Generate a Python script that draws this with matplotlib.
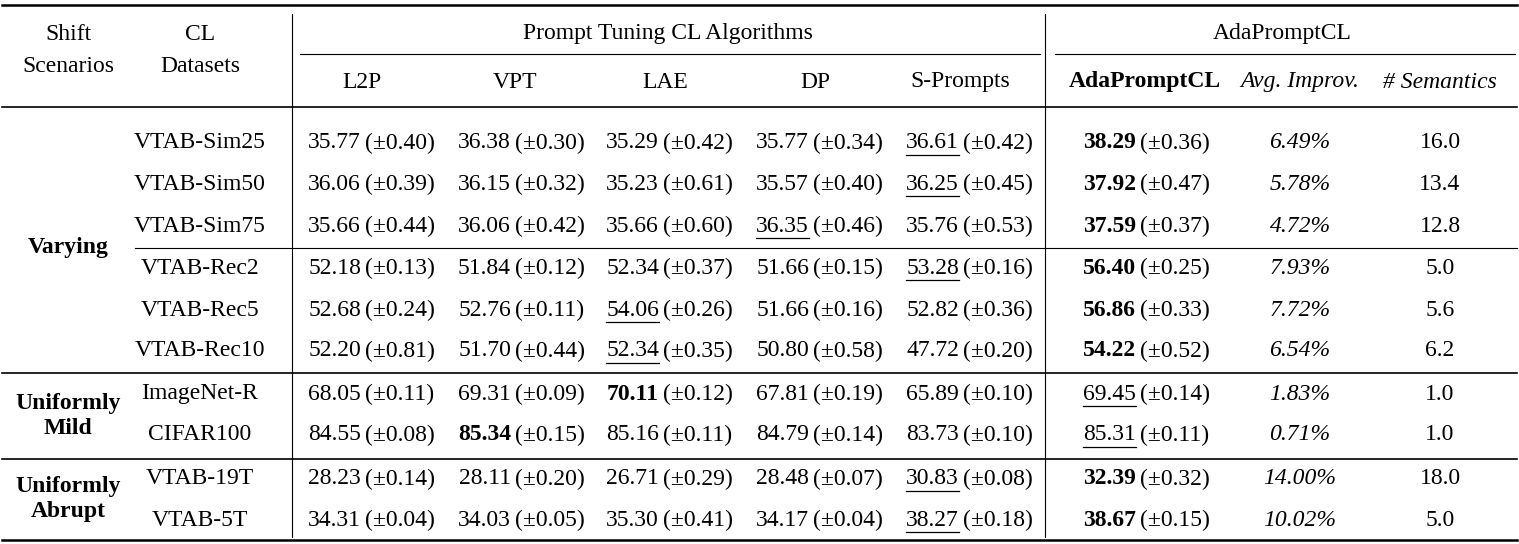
import matplotlib
matplotlib.use("Agg")
import matplotlib.pyplot as plt

datasets = ["VTAB-Sim25","VTAB-Sim50","VTAB-Sim75","VTAB-Rec2","VTAB-Rec5","VTAB-Rec10",
            "ImageNet-R","CIFAR100","VTAB-19T","VTAB-5T"]
methods = ["L2P","VPT","LAE","DP","S-Prompts","AdaPromptCL"]
means = [
 [35.77,36.38,35.29,35.77,36.61,38.29],
 [36.06,36.15,35.23,35.57,36.25,37.92],
 [35.66,36.06,35.66,36.35,35.76,37.59],
 [52.18,51.84,52.34,51.66,53.28,56.40],
 [52.68,52.76,54.06,51.66,52.82,56.86],
 [52.20,51.70,52.34,50.80,47.72,54.22],
 [68.05,69.31,70.11,67.81,65.89,69.45],
 [84.55,85.34,85.16,84.79,83.73,85.31],
 [28.23,28.11,26.71,28.48,30.83,32.39],
 [34.31,34.03,35.30,34.17,38.27,38.67]]
stds = [
 [0.40,0.30,0.42,0.34,0.42,0.36],
 [0.39,0.32,0.61,0.40,0.45,0.47],
 [0.44,0.42,0.60,0.46,0.53,0.37],
 [0.13,0.12,0.37,0.15,0.16,0.25],
 [0.24,0.11,0.26,0.16,0.36,0.33],
 [0.81,0.44,0.35,0.58,0.20,0.52],
 [0.11,0.09,0.12,0.19,0.10,0.14],
 [0.08,0.15,0.11,0.14,0.10,0.11],
 [0.14,0.20,0.29,0.07,0.08,0.32],
 [0.04,0.05,0.41,0.04,0.18,0.15]]
best_idx = [5,5,5,5,5,5,2,1,5,5]
second_idx = [4,4,3,4,2,2,5,5,4,4]
improv = ["6.49%","5.78%","4.72%","7.93%","7.72%","6.54%","1.83%","0.71%","14.00%","10.02%"]
semantics = ["16.0","13.4","12.8","5.0","5.6","6.2","1.0","1.0","18.0","5.0"]

W, H = 1519, 544
fig = plt.figure(figsize=(W/100, H/100), dpi=100)
ax = fig.add_axes([0,0,1,1])
ax.set_xlim(0, W); ax.set_ylim(H, 0); ax.axis("off")
FONT = "Liberation Serif"; FS = 17
kw = dict(family=FONT, fontsize=FS, va="center")

ax.plot([2, W-2], [5, 5], color="k", lw=1.8)
ax.plot([300, 1040], [54, 54], color="k", lw=0.8)
ax.plot([1055, W-4], [54, 54], color="k", lw=0.8)
ax.plot([2, W-2], [107, 107], color="k", lw=1.2)
ax.plot([135, W-2], [248, 248], color="k", lw=0.8)
ax.plot([2, W-2], [373, 373], color="k", lw=1.2)
ax.plot([2, W-2], [459, 459], color="k", lw=1.2)
ax.plot([2, W-2], [540, 540], color="k", lw=1.8)
for x in [292, 1045]:
    ax.plot([x, x], [14, 537], color="k", lw=0.8)

ax.text(68, 34, "Shift", ha="center", **kw)
ax.text(68, 66, "Scenarios", ha="center", **kw)
ax.text(200, 34, "CL", ha="center", **kw)
ax.text(200, 66, "Datasets", ha="center", **kw)
ax.text(668, 33, "Prompt Tuning CL Algorithms", ha="center", **kw)
ax.text(1282, 33, "AdaPromptCL", ha="center", **kw)
hx = [362, 515, 665, 815, 960]
for m, x in zip(methods[:5], hx):
    ax.text(x, 82, m, ha="center", **kw)
ax.text(1145, 82, "AdaPromptCL", ha="center", weight="bold", **kw)
ax.text(1300, 82, "Avg. Improv.", ha="center", style="italic", **kw)
ax.text(1440, 82, "# Semantics", ha="center", style="italic", **kw)

ax.text(68, 248, "Varying", ha="center", weight="bold", **kw)
ax.text(68, 416, "Uniformly\nMild", ha="center", weight="bold", linespacing=1.25, **kw)
ax.text(68, 499, "Uniformly\nAbrupt", ha="center", weight="bold", linespacing=1.25, **kw)

rows_y = [143,184,226,268,310,351,394,435,479,520]
cx = [370, 520, 668, 818, 968, 1145]
underlines = []
for i, y in enumerate(rows_y):
    ax.text(200, y, datasets[i], ha="center", **kw)
    for j in range(6):
        wgt = "bold" if best_idx[i] == j else "normal"
        t = ax.text(cx[j]-9, y, f"{means[i][j]:.2f}", ha="right", weight=wgt, **kw)
        ax.text(cx[j]-5, y, f"(\u00b1{stds[i][j]:.2f})", ha="left", **kw)
        if second_idx[i] == j:
            underlines.append((t, y))
    ax.text(1300, y, improv[i], ha="center", style="italic", **kw)
    ax.text(1440, y, semantics[i], ha="center", **kw)

fig.canvas.draw()
r = fig.canvas.get_renderer()
for t, y in underlines:
    bb = t.get_window_extent(r)
    ax.plot([bb.x0, bb.x1], [y+12, y+12], color="k", lw=0.9)

fig.savefig("out.png", dpi=100)
